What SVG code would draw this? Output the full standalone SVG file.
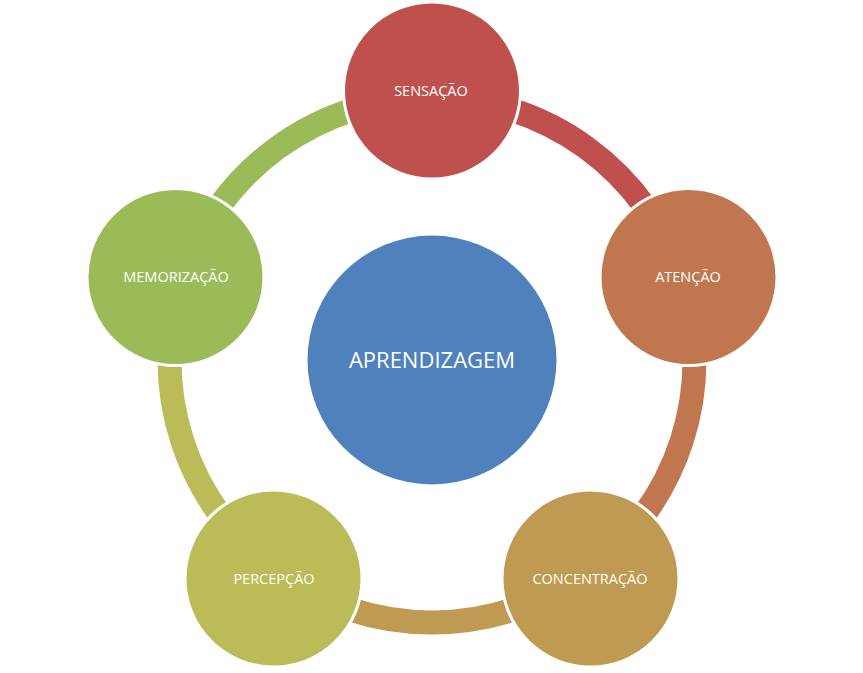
<svg xmlns="http://www.w3.org/2000/svg" width="863" height="673" viewBox="0 0 863 673">
  <style>
    .arc { fill: none; stroke-width: 24; }
    .node { stroke: #ffffff; stroke-width: 3; }
    .lbl { font-family: "Open Sans", "Noto Sans", sans-serif; font-size: 14.5px; fill: #ffffff; text-anchor: middle; }
    .big { font-size: 22px; }
  </style>
  <rect width="863" height="673" fill="#ffffff"/>
  <g id="connectors">
    <path class="arc" stroke="#C0504D" d="M432 97.5 A262.5 262.5 0 0 1 681.65 278.88"/>
    <path class="arc" stroke="#C0774F" d="M681.65 278.88 A262.5 262.5 0 0 1 586.29 572.37"/>
    <path class="arc" stroke="#BF9A52" d="M586.29 572.37 A262.5 262.5 0 0 1 277.71 572.37"/>
    <path class="arc" stroke="#BBBB57" d="M277.71 572.37 A262.5 262.5 0 0 1 182.35 278.88"/>
    <path class="arc" stroke="#9BBB59" d="M182.35 278.88 A262.5 262.5 0 0 1 432 97.5"/>
  </g>
  <g id="aprendizagem">
    <circle cx="432" cy="360" r="124.5" fill="#4F81BD"/>
    <text class="lbl big" x="432" y="367.5">APRENDIZAGEM</text>
  </g>
  <g id="sensacao">
    <circle class="node" cx="432" cy="90.5" r="88.5" fill="#C0504D"/>
    <text class="lbl" x="431" y="95.5">SENSAÇÃO</text>
  </g>
  <g id="atencao">
    <circle class="node" cx="688.5" cy="277" r="88.5" fill="#C0774F"/>
    <text class="lbl" x="688" y="282">ATENÇÃO</text>
  </g>
  <g id="concentracao">
    <circle class="node" cx="590.5" cy="578.5" r="88.5" fill="#BF9A52"/>
    <text class="lbl" x="590" y="583.5">CONCENTRAÇÃO</text>
  </g>
  <g id="percepcao">
    <circle class="node" cx="273.5" cy="578.5" r="88.5" fill="#BBBB57"/>
    <text class="lbl" x="274" y="583.5">PERCEPÇÃO</text>
  </g>
  <g id="memorizacao">
    <circle class="node" cx="175.5" cy="277" r="88.5" fill="#9BBB59"/>
    <text class="lbl" x="176" y="282">MEMORIZAÇÃO</text>
  </g>
</svg>
